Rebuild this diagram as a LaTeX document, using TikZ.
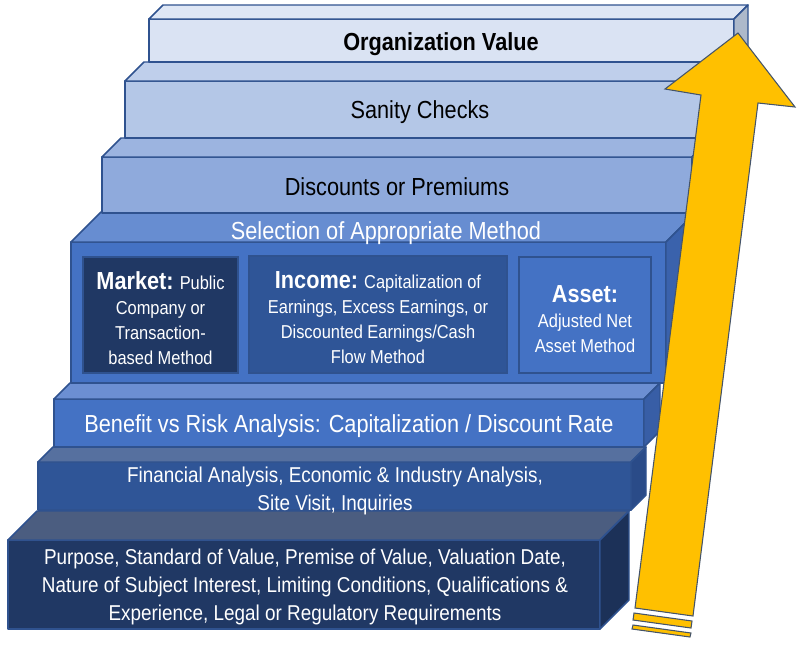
\documentclass[tikz,border=0pt]{standalone}
\usepackage{fontspec}
\setmainfont{Liberation Sans}[FakeStretch=0.88]

% colours of the steps
\definecolor{stepedge}{HTML}{2F528F}
\definecolor{orgfront}{HTML}{DAE3F3}
\definecolor{orgtop}{HTML}{DFE7F5}
\definecolor{orgside}{HTML}{ADB9CA}
\definecolor{sanfront}{HTML}{B4C7E7}
\definecolor{santop}{HTML}{BFCFEB}
\definecolor{disfront}{HTML}{8FAADC}
\definecolor{distop}{HTML}{9CB4E0}
\definecolor{selfront}{HTML}{4472C4}
\definecolor{seltop}{HTML}{678DD1}
\definecolor{selside}{HTML}{3A62AC}
\definecolor{benfront}{HTML}{4472C4}
\definecolor{bentop}{HTML}{6C8FD2}
\definecolor{benside}{HTML}{385EA6}
\definecolor{finfront}{HTML}{2F5597}
\definecolor{fintop}{HTML}{56709F}
\definecolor{finside}{HTML}{2A4B88}
\definecolor{purfront}{HTML}{203864}
\definecolor{purtop}{HTML}{4B5D80}
\definecolor{purside}{HTML}{1C3158}
\definecolor{arrowfill}{HTML}{FFC000}
\definecolor{arrowedge}{HTML}{44546A}

\newcommand{\labelbig}{\fontsize{18.5}{21}\selectfont}
\newcommand{\labelmid}{\fontsize{16.1}{21}\selectfont}
\newcommand{\labelsmall}{\fontsize{14}{18.7}\selectfont}

% one step: left, right, top, bottom, depth, front, top, side
\newcommand{\drawstep}[8]{%
  \filldraw[face, fill=#6] (#1,#3) rectangle (#2,#4);
  \filldraw[face, fill=#7] (#1,#3) -- ++(#5,-#5) -- ({#2+#5},{#3-#5}) -- (#2,#3) -- cycle;
  \filldraw[face, fill=#8] (#2,#3) -- ({#2+#5},{#3-#5}) -- ({#2+#5},{#4-#5}) -- (#2,#4) -- cycle;
}

\tikzset{
  face/.style={draw=stepedge, line width=1.1pt, line join=round},
  darktext/.style={text=black, align=center, inner sep=0pt},
  lighttext/.style={text=white, align=center, inner sep=0pt},
  methodbox/.style={draw=stepedge, line width=1pt, text=white, align=center, inner sep=0pt},
  arrowpart/.style={fill=arrowfill, draw=arrowedge, line width=0.8pt, line join=miter}
}

\begin{document}
\begin{tikzpicture}[x=0.75pt, y=-0.75pt]
        \useasboundingbox (0,0) rectangle (811,661);

        % steps, from the bottom up
        \drawstep{8}{600}{540}{629}{29}{purfront}{purtop}{purside}
        \drawstep{38}{631}{462}{510}{15}{finfront}{fintop}{finside}
        \drawstep{54}{644}{399}{447}{16}{benfront}{bentop}{benside}
        \drawstep{71}{666}{242}{383}{30}{selfront}{seltop}{selside}
        \drawstep{102}{692}{157}{213}{19}{disfront}{distop}{selside}
        \drawstep{125}{712}{81}{138}{19}{sanfront}{santop}{orgside}
        \drawstep{149}{734}{19}{62}{14}{orgfront}{orgtop}{orgside}

        % labels on the steps
        \node[darktext, font=\labelbig\bfseries] (orgvalue) at (441,44) {Organization Value};
        \node[darktext, font=\labelbig] (sanity) at (420,112) {Sanity Checks};
        \node[darktext, font=\labelbig] (discounts) at (397,187) {Discounts or Premiums};
        \node[lighttext, font=\labelbig] (selection) at (386,233) {Selection of Appropriate Method};
        \node[lighttext, font=\labelbig] (benefit) at (349,426) {Benefit vs Risk Analysis: Capitalization / Discount Rate};
        \node[lighttext, font=\labelmid] (financial) at (335,491)
            {Financial Analysis, Economic \& Industry Analysis,\\ Site Visit, Inquiries};
        \node[lighttext, font=\labelmid] (purpose) at (305,587)
            {Purpose, Standard of Value, Premise of Value, Valuation Date,\\
             Nature of Subject Interest, Limiting Conditions, Qualifications \&\\
             Experience, Legal or Regulatory Requirements};

        % the three methods
        \node[methodbox, fill=purfront, minimum width=116.25pt, minimum height=87pt] (marketbox) at (160.5,315) {};
        \node[methodbox, fill=finfront, minimum width=193.5pt, minimum height=87.75pt] (incomebox) at (378,314.5) {};
        \node[methodbox, fill=selfront, minimum width=99pt, minimum height=87pt] (assetbox) at (585,315) {};
        \node[lighttext, font=\labelsmall] (market) at ([yshift=-2.5pt]marketbox.center)
            {{\labelbig\bfseries Market:} Public\\ Company or\\ Transaction-\\ based Method};
        \node[lighttext, font=\labelsmall] (income) at ([yshift=-2.5pt]incomebox.center)
            {{\labelbig\bfseries Income:} Capitalization of\\ Earnings, Excess Earnings, or\\ Discounted Earnings/Cash\\ Flow Method};
        \node[lighttext, font=\labelsmall] (asset) at ([yshift=-3pt]assetbox.center)
            {{\labelbig\bfseries Asset:}\\ Adjusted Net\\ Asset Method};

        % rising arrow
        \filldraw[arrowpart] (635,608) -- (701,95) -- (665,89) -- (738,33) -- (795,107) -- (758,103) -- (693,616) -- cycle;
        \filldraw[arrowpart] (634,613) -- (692,621) -- (691,628) -- (633,620) -- cycle;
        \filldraw[arrowpart] (633,625) -- (691,633) -- (690,637) -- (632,629) -- cycle;
\end{tikzpicture}
\end{document}
